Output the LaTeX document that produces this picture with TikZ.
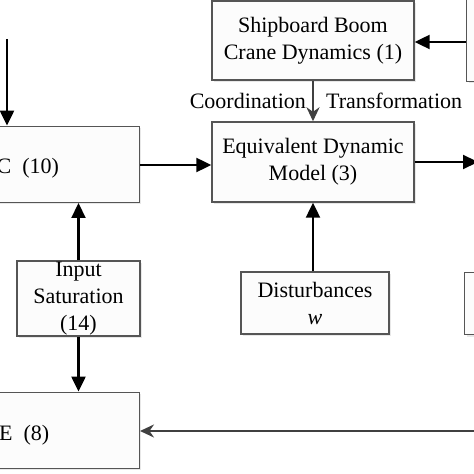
\documentclass[tikz,border=0pt]{standalone}
\usepackage{fontspec}
\setmainfont{Liberation Serif}
\usetikzlibrary{arrows.meta,shadows}
\definecolor{boxline}{HTML}{555555}
\definecolor{boxfill}{HTML}{FCFCFC}
\definecolor{greyarrow}{HTML}{404040}
\tikzset{>={Triangle[length=15pt,width=14pt]}}
\tikzstyle{block} = [draw=boxline, line width=1.4pt, fill=boxfill, align=center,
  inner sep=0pt, drop shadow={shadow xshift=2pt, shadow yshift=-2pt, fill=black!15, opacity=0.6}]
\tikzstyle{arrow} = [line width=2.2pt, ->]
\tikzstyle{greyarrow} = [line width=2.2pt, draw=greyarrow, -{Stealth[length=14pt,width=13pt]}]

\begin{document}
\begin{tikzpicture}[x=1pt, y=1pt, font=\fontsize{22pt}{27pt}\selectfont]

\useasboundingbox (0,0) rectangle (474,474);

% blocks
\node [block, minimum width=202, minimum height=79] (crane) at (313,433.5)
  {Shipboard Boom\\Crane Dynamics (1)};
\node [block, minimum width=202, minimum height=80] (model) at (313,312)
  {Equivalent Dynamic\\Model (3)};
\node [block, minimum width=148, minimum height=62] (dist) at (315,171)
  {Disturbances\\\textit{w}};
\node [block, minimum width=123, minimum height=75] (sat) at (78.5,175.5)
  {Input\\Saturation\\(14)};
\node [block, anchor=south east, minimum width=260, minimum height=76] (ctrl) at (140,271) {};
\node [block, anchor=south east, minimum width=260, minimum height=76] (eso) at (140,5) {};
\node [block, anchor=south west, minimum width=100, minimum height=102] (top-right) at (466,392) {};
\node [block, anchor=north west, minimum width=100, minimum height=62] (mid-right) at (464,202) {};

\node [anchor=base west, inner sep=0pt] (ctrl-text) at (-3.5,300) {C~~(10)};
\node [anchor=base west, inner sep=0pt] (eso-text) at (-1,34) {E~~(8)};

% free ends
\coordinate (ref-in) at (7,435);
\coordinate (model-out) at (478,312);
\coordinate (eso-in) at (480,43);

% connections
\draw [arrow] (top-right.west |- 0,432) -- (crane.east |- 0,432);
\draw [arrow] (ref-in) -- (ref-in |- ctrl.north);
\draw [arrow] (ctrl.east |- 0,309) -- (model.west |- 0,309);
\draw [arrow] (model.east) -- (model-out);
\draw [greyarrow] (crane.south) -- (model.north)
  node [midway, anchor=east, inner sep=0pt, xshift=-6] (coord-text) {Coordination}
  node [midway, anchor=west, inner sep=0pt, xshift=12] (trans-text) {Transformation};
\draw [arrow] (model.south |- dist.north) -- (model.south);
\draw [arrow] (sat.north) -- (sat.north |- ctrl.south);
\draw [arrow] (sat.south) -- (sat.south |- eso.north);
\draw [greyarrow] (eso-in) -- (eso-in -| eso.east);

\end{tikzpicture}
\end{document}
